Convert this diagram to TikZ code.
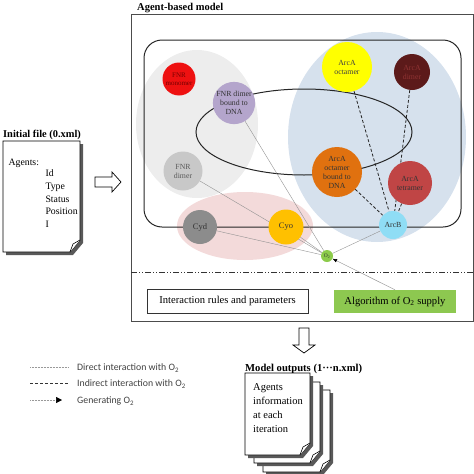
\documentclass[tikz,border=0pt]{standalone}
\usepackage{fontspec}
\setmainfont{Liberation Serif}
\newfontfamily\legendfont{Carlito}
\usetikzlibrary{arrows.meta}
\pgfdeclarelayer{bg}
\pgfdeclarelayer{lines}
\pgfsetlayers{bg,lines,main}
\definecolor{fnrmon}{HTML}{EE1111}
\definecolor{fnrdna}{HTML}{B4A5CC}
\definecolor{fnrdim}{HTML}{C8C8C8}
\definecolor{arcoct}{HTML}{FFFF00}
\definecolor{arcdim}{HTML}{5C1A1A}
\definecolor{arcdna}{HTML}{E0710F}
\definecolor{arctet}{HTML}{C04545}
\definecolor{arcbcol}{HTML}{8FDDF5}
\definecolor{cydcol}{HTML}{8C8C8C}
\definecolor{cyocol}{HTML}{FFC000}
\definecolor{o2col}{HTML}{8CCB4A}
\definecolor{greyell}{HTML}{EDEDED}
\definecolor{blueell}{HTML}{D6E1ED}
\definecolor{pinkell}{HTML}{F3DADA}
\definecolor{algcol}{HTML}{8DC850}
\newcommand\mydoc[4]{%
  \fill[black!65] (#1+3,#2+3) -- (#3+3,#2+3) -- (#3+3,#4-12+3) -- (#3-10+3,#4+3) -- (#1+3,#4+3) -- cycle;
  \filldraw[fill=white,draw=black,line width=0.7pt] (#1,#2) -- (#3,#2) -- (#3,#4-12) -- (#3-10,#4) -- (#1,#4) -- cycle;
  \filldraw[fill=white,draw=black,line width=0.6pt,line join=round] (#3,#4-12) -- (#3-7,#4-8) -- (#3-10,#4);
}
\begin{document}
\begin{tikzpicture}[x=1pt,y=-1pt,
  agent/.style={circle,inner sep=0pt,align=center,text=black!80,
    font=\fontsize{7.8}{9}\selectfont},
  direct/.style={gray!85,line width=0.4pt},
  indirect/.style={black!85,line width=0.8pt,dash pattern=on 3pt off 2pt},
  boxtext/.style={font=\fontsize{10.6}{12}\selectfont},
  legtext/.style={anchor=west,font=\legendfont\fontsize{9.8}{11}\selectfont,text=black!75},
  bodytext/.style={anchor=base west,font=\fontsize{9.8}{11}\selectfont},
  hollow/.style={draw=black,fill=white,line width=0.7pt}]
\useasboundingbox (0,0) rectangle (474,474);

% ---------- agent-based model frame ----------
\node[anchor=base west,inner sep=0pt,font=\bfseries\fontsize{10.5}{12}\selectfont] (abmtitle) at (137,10) {Agent-based model};
\draw[black!70,line width=0.9pt] (131,14) rectangle (473,321);
\draw[black!80,line width=0.8pt,dash pattern=on 6pt off 2pt on 1pt off 2pt on 1pt off 2pt] (131,272) -- (473,272);

\begin{pgfonlayer}{bg}
  \fill[greyell] (197,124) ellipse [x radius=61,y radius=74];
  \fill[blueell] (377,137) ellipse [x radius=89,y radius=105];
  \fill[pinkell] (245,226) ellipse [x radius=68,y radius=34];
  \draw[black!85,line width=1pt,rounded corners=18pt] (144,40) rectangle (461,227);
  \draw[black!85,line width=1pt] (304,132) ellipse [x radius=108,y radius=43];
\end{pgfonlayer}

% ---------- agents ----------
\node[agent,fill=fnrmon,minimum size=33pt,text=red!45!black,font=\fontsize{7}{8.5}\selectfont] (fnrm) at (179,79) {FNR\\monomer};
\node[agent,fill=fnrdna,minimum size=41pt] (fnrb) at (234,103) {FNR dimer\\bound to\\DNA};
\node[agent,fill=fnrdim,minimum size=39pt,text=black!65] (fnrd) at (183,171) {FNR\\dimer};
\node[agent,fill=arcoct,minimum size=50pt,text=black!75] (arco) at (347,67) {ArcA\\octamer};
\node[agent,fill=arcdim,minimum size=36pt,text=red!45!black!80] (arcd) at (412,72) {ArcA\\dimer};
\node[agent,fill=arcdna,minimum size=50pt] (arcb2) at (337,172) {ArcA\\octamer\\bound to\\DNA};
\node[agent,fill=arctet,minimum size=44pt] (arct) at (410,183) {ArcA\\tetramer};
\node[agent,fill=arcbcol,minimum size=28pt] (arcb) at (393,225) {ArcB};
\node[agent,fill=cydcol,minimum size=34pt,font=\fontsize{8.5}{10}\selectfont] (cyd) at (200,227) {Cyd};
\node[agent,fill=cyocol,minimum size=35pt,font=\fontsize{8.5}{10}\selectfont] (cyo) at (286,227) {Cyo};
\node[agent,fill=o2col,minimum size=12pt,font=\fontsize{5.5}{6}\selectfont] (o2) at (327,256) {O\textsubscript{2}};

\begin{pgfonlayer}{lines}
  \draw[direct] (fnrb) -- (o2);
  \draw[direct] (fnrd) -- (o2);
  \draw[direct] (cyd) -- (o2);
  \draw[direct] (cyo) -- (o2);
  \draw[direct] (arcb) -- (o2);
  \draw[indirect] (arco) -- (arcb);
  \draw[indirect] (arcd) -- (arcb);
  \draw[indirect] (arcb2) -- (arcb);
  \draw[indirect] (arct) -- (arcb);
\end{pgfonlayer}

% ---------- lower boxes ----------
\node[draw=black!80,line width=0.8pt,minimum width=161pt,minimum height=24pt,boxtext] (rules) at (227.5,301) {Interaction rules and parameters};
\node[fill=algcol,minimum width=122pt,minimum height=23pt,boxtext] (algo) at (395,301.5) {Algorithm of O\textsubscript{2} supply};
\draw[gray!80,line width=0.5pt,-{Latex[black,length=4.5pt,width=3.5pt]}] (algo.north) -- (o2);

% ---------- initial file ----------
\node[anchor=base west,inner sep=0pt,font=\bfseries\fontsize{10.4}{12}\selectfont] (inittitle) at (3,137) {Initial file (0.xml)};
\mydoc{3}{141}{80}{252}
\node[bodytext] (agentslbl) at (5,165) {Agents:};
\node[bodytext] (idl) at (42,176) {Id};
\node[bodytext] (typel) at (42,189) {Type};
\node[bodytext] (statusl) at (42,202) {Status};
\node[bodytext] (posl) at (42,214) {Position};
\node[bodytext] (il) at (42,227) {I};

% hollow right arrow
\draw[hollow] (95,177) -- (112,177) -- (112,172) -- (121,182) -- (112,192) -- (112,187) -- (95,187) -- cycle;
% hollow down arrow
\draw[hollow] (299,328) -- (309,328) -- (309,345) -- (315,345) -- (304,353) -- (293,345) -- (299,345) -- cycle;

% ---------- model outputs ----------
\node[anchor=base west,inner sep=0pt,font=\bfseries\fontsize{10.6}{12}\selectfont] (outtitle) at (245,371) {Model outputs (1\textperiodcentered\textperiodcentered\textperiodcentered n.xml)};
\mydoc{263}{390}{330}{472}
\mydoc{254}{382}{320}{463}
\mydoc{245}{373}{310}{455}
\node[anchor=north west,inner sep=0pt,align=left,font=\fontsize{10.5}{14}\selectfont] (outtext) at (253,383) {Agents\\information\\at each\\iteration};

% ---------- legend ----------
\coordinate (la1) at (30,367); \coordinate (lb1) at (68,367);
\coordinate (la2) at (30,383); \coordinate (lb2) at (68,383);
\coordinate (la3) at (30,400); \coordinate (lb3) at (62,400);
\draw[gray!80,line width=0.5pt,densely dotted] (la1) -- (lb1);
\draw[black!80,line width=0.7pt,dash pattern=on 3pt off 2pt] (la2) -- (lb2);
\draw[gray!80,line width=0.5pt,densely dotted,-{Triangle[black,length=6pt,width=6pt]}] (la3) -- (lb3);
\node[legtext,inner sep=0pt] (leg1) at (77,368) {Direct interaction with O\textsubscript{2}};
\node[legtext,inner sep=0pt] (leg2) at (77,384) {Indirect interaction with O\textsubscript{2}};
\node[legtext,inner sep=0pt] (leg3) at (77,401) {Generating O\textsubscript{2}};
\end{tikzpicture}
\end{document}
